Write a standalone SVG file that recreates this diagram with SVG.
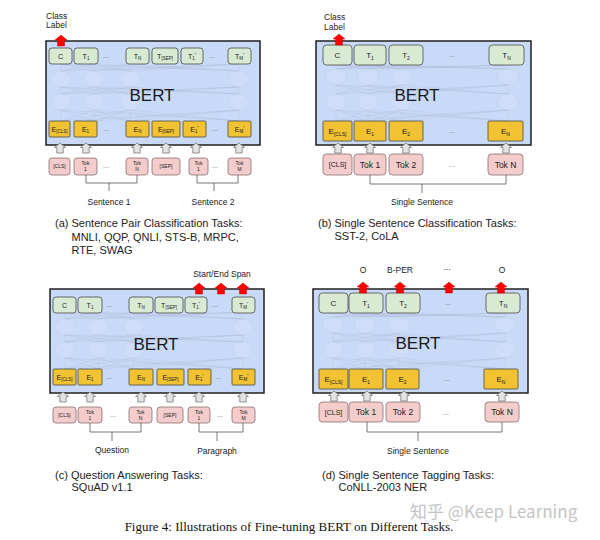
<svg xmlns="http://www.w3.org/2000/svg" xmlns:xlink="http://www.w3.org/1999/xlink" width="600" height="540" viewBox="0 0 600 540">
<style>
.bert{fill:#c9daf8;stroke:#1f1f1f;stroke-width:1.5}
.t{fill:#d9ead3;stroke:#4a4a4a;stroke-width:.8}
.e{fill:#f1c232;stroke:#4a4a4a;stroke-width:.8}
.k{fill:#f4cccc;stroke:#8a6f6f;stroke-width:.8}
.ga{fill:#e3e3e3;stroke:#7a7a7a;stroke-width:.8}
.ra{fill:#ff0000;stroke:#d00000;stroke-width:.5}
.br{fill:none;stroke:#555;stroke-width:.8}
.nl{fill:none;stroke:#a2b0c8;stroke-width:.5;opacity:.45}
.ne{fill:#d2e0f8;stroke:#b8c6de;stroke-width:.5;opacity:.6}
text{font-family:"Liberation Sans",Arial,sans-serif;fill:#222}
.m{text-anchor:middle}
.b7{font-size:7px}
.b8{font-size:8px}
.s{font-size:4.5px}
.p{font-size:6px}
.s5{font-size:5px}
.tk{font-size:5px}
.tk8{font-size:8.5px}
.cl{font-size:7px}
.lab{font-size:8.5px}
.cap{font-size:11px}
.bt{font-size:17px;text-anchor:middle;fill:#1a1a1a}
.dots{font-size:7px;fill:#666;text-anchor:middle}
.fig{font-family:"Liberation Serif","Times New Roman",serif;font-size:13px;text-anchor:middle;fill:#111}
.wm{font-family:"Noto Sans CJK SC","Noto Sans",sans-serif;font-size:17px;fill:#c4c4c4}
</style>
<defs>
<path id="gar" d="M0,0 L5.5,4.5 L3.2,4.5 L3.2,10 L-3.2,10 L-3.2,4.5 L-5.5,4.5 Z"/>
<path id="rar" d="M0,0 L6,5 L3.5,5 L3.5,11 L-3.5,11 L-3.5,5 L-6,5 Z"/>
<g id="netA">
<path class="nl" d="M15 80L15 69M15 80L48 69M15 80L84 69M15 80L193 69M48 80L15 69M48 80L48 69M48 80L84 69M48 80L193 69M84 80L15 69M84 80L48 69M84 80L84 69M84 80L193 69M193 80L15 69M193 80L48 69M193 80L84 69M193 80L193 69
M15 53L15 46M15 53L48 46M15 53L84 46M15 53L193 46M48 53L15 46M48 53L48 46M48 53L84 46M48 53L193 46M84 53L15 46M84 53L48 46M84 53L84 46M84 53L193 46M193 53L15 46M193 53L48 46M193 53L84 46M193 53L193 46
M15 30L15 23M15 30L48 23M15 30L84 23M15 30L193 23M48 30L15 23M48 30L48 23M48 30L84 23M48 30L193 23M84 30L15 23M84 30L48 23M84 30L84 23M84 30L193 23M193 30L15 23M193 30L48 23M193 30L84 23M193 30L193 23"/>
<ellipse class="ne" cx="15" cy="38" rx="10" ry="8"/><ellipse class="ne" cx="48" cy="38" rx="10" ry="8"/><ellipse class="ne" cx="84" cy="38" rx="10" ry="8"/><ellipse class="ne" cx="193" cy="38" rx="10" ry="8"/>
<ellipse class="ne" cx="15" cy="61" rx="10" ry="8"/><ellipse class="ne" cx="48" cy="61" rx="10" ry="8"/><ellipse class="ne" cx="84" cy="61" rx="10" ry="8"/><ellipse class="ne" cx="193" cy="61" rx="10" ry="8"/>
</g>
<g id="netB">
<path class="nl" d="M20 80L20 69M20 80L52 69M20 80L86 69M20 80L192 69M52 80L20 69M52 80L52 69M52 80L86 69M52 80L192 69M86 80L20 69M86 80L52 69M86 80L86 69M86 80L192 69M192 80L20 69M192 80L52 69M192 80L86 69M192 80L192 69
M20 53L20 44M20 53L52 44M20 53L86 44M20 53L192 44M52 53L20 44M52 53L52 44M52 53L86 44M52 53L192 44M86 53L20 44M86 53L52 44M86 53L86 44M86 53L192 44M192 53L20 44M192 53L52 44M192 53L86 44M192 53L192 44
M20 28L20 24M20 28L52 24M20 28L86 24M20 28L192 24M52 28L20 24M52 28L52 24M52 28L86 24M52 28L192 24M86 28L20 24M86 28L52 24M86 28L86 24M86 28L192 24M192 28L20 24M192 28L52 24M192 28L86 24M192 28L192 24"/>
<ellipse class="ne" cx="20" cy="36" rx="10.5" ry="8"/><ellipse class="ne" cx="52" cy="36" rx="10.5" ry="8"/><ellipse class="ne" cx="86" cy="36" rx="10.5" ry="8"/><ellipse class="ne" cx="192" cy="36" rx="10.5" ry="8"/>
<ellipse class="ne" cx="20" cy="61" rx="10.5" ry="8"/><ellipse class="ne" cx="52" cy="61" rx="10.5" ry="8"/><ellipse class="ne" cx="86" cy="61" rx="10.5" ry="8"/><ellipse class="ne" cx="192" cy="61" rx="10.5" ry="8"/>
</g>
</defs>

<!-- ===== Panel (a) ===== -->
<g id="a-bert"><rect class="bert" x="46" y="41" width="214" height="104"/><use xlink:href="#netA" x="46" y="41"/><text class="bt" x="152" y="101">BERT</text></g>
<g id="a-C"><rect class="t" x="49" y="48" width="23" height="16" rx="3"/><text class="m b7" x="60.5" y="58.5">C</text></g>
<g id="a-T1"><rect class="t" x="74" y="48" width="24" height="16" rx="3"/><text class="m b7" x="86" y="58.5">T<tspan class="s" dy="1.5">1</tspan></text></g>
<g id="a-TN"><rect class="t" x="126" y="48" width="23" height="16" rx="3"/><text class="m b7" x="137.5" y="58.5">T<tspan class="s" dy="1.5">N</tspan></text></g>
<g id="a-TSEP"><rect class="t" x="152" y="48" width="26" height="16" rx="3"/><text class="m b7" x="165" y="58.5">T<tspan class="s" dy="1.5">[SEP]</tspan></text></g>
<g id="a-T1p"><rect class="t" x="181" y="48" width="22" height="16" rx="3"/><text class="m b7" x="192" y="58.5">T<tspan class="s" dy="1.5">1</tspan><tspan class="p" dy="-3.5">'</tspan></text></g>
<g id="a-TMp"><rect class="t" x="228" y="48" width="23" height="16" rx="3"/><text class="m b7" x="239.5" y="58.5">T<tspan class="s" dy="1.5">M</tspan><tspan class="p" dy="-3.5">'</tspan></text></g>
<text class="dots" x="106" y="58">...</text><text class="dots" x="212" y="58">...</text>

<g id="a-ECLS"><rect class="e" x="49" y="121" width="21" height="16" rx="1"/><text class="m b7" x="59.5" y="131.5">E<tspan class="s" dy="1.5">[CLS]</tspan></text></g>
<g id="a-E1"><rect class="e" x="74" y="121" width="23" height="16" rx="1"/><text class="m b7" x="85.5" y="131.5">E<tspan class="s" dy="1.5">1</tspan></text></g>
<g id="a-EN"><rect class="e" x="126" y="121" width="23" height="16" rx="1"/><text class="m b7" x="137.5" y="131.5">E<tspan class="s" dy="1.5">N</tspan></text></g>
<g id="a-ESEP"><rect class="e" x="152" y="121" width="28" height="16" rx="1"/><text class="m b7" x="166" y="131.5">E<tspan class="s" dy="1.5">[SEP]</tspan></text></g>
<g id="a-E1p"><rect class="e" x="183" y="121" width="23" height="16" rx="1"/><text class="m b7" x="194.5" y="131.5">E<tspan class="s" dy="1.5">1</tspan><tspan class="p" dy="-3.5">'</tspan></text></g>
<g id="a-EMp"><rect class="e" x="228" y="121" width="23" height="16" rx="1"/><text class="m b7" x="239.5" y="131.5">E<tspan class="s" dy="1.5">M</tspan><tspan class="p" dy="-3.5">'</tspan></text></g>
<text class="dots" x="106" y="131">...</text><text class="dots" x="215" y="131">...</text>

<g id="a-kCLS"><rect class="k" x="49" y="158" width="21" height="17" rx="3"/><text class="m tk" x="59.5" y="168">[CLS]</text></g>
<g id="a-k1"><rect class="k" x="74" y="158" width="23" height="17" rx="3"/><text class="m tk" x="85.5" y="165">Tok</text><text class="m tk" x="85.5" y="171">1</text></g>
<g id="a-kN"><rect class="k" x="126" y="158" width="22" height="17" rx="3"/><text class="m tk" x="137" y="165">Tok</text><text class="m tk" x="137" y="171">N</text></g>
<g id="a-kSEP"><rect class="k" x="152" y="158" width="28" height="17" rx="3"/><text class="m tk" x="166" y="168">[SEP]</text></g>
<g id="a-k1p"><rect class="k" x="189" y="158" width="19" height="17" rx="3"/><text class="m tk" x="198.5" y="165">Tok</text><text class="m tk" x="198.5" y="171">1</text></g>
<g id="a-kM"><rect class="k" x="228" y="158" width="23" height="17" rx="3"/><text class="m tk" x="239.5" y="165">Tok</text><text class="m tk" x="239.5" y="171">M</text></g>
<text class="dots" x="106" y="168">...</text><text class="dots" x="215" y="168">...</text>

<g id="a-label"><text class="lab" x="46" y="19">Class</text><text class="lab" x="46" y="28">Label</text></g>
<text class="lab m" x="109" y="205">Sentence 1</text>
<text class="lab m" x="213" y="205">Sentence 2</text>
<text class="cap" x="55" y="227">(a) Sentence Pair Classification Tasks:</text>
<text class="cap" x="71.5" y="241">MNLI, QQP, QNLI, STS-B, MRPC,</text>
<text class="cap" x="71.5" y="254">RTE, SWAG</text>

<!-- ===== Panel (b) ===== -->
<g id="b-bert"><rect class="bert" x="316" y="41" width="215" height="104"/><use xlink:href="#netB" x="316" y="41"/><text class="bt" x="417" y="101">BERT</text></g>
<g id="b-C"><rect class="t" x="323" y="45" width="29" height="20" rx="3.5"/><text class="m b8" x="337.5" y="58">C</text></g>
<g id="b-T1"><rect class="t" x="354" y="45" width="32" height="20" rx="3.5"/><text class="m b8" x="370" y="58">T<tspan class="s5" dy="1.5">1</tspan></text></g>
<g id="b-T2"><rect class="t" x="389" y="45" width="34" height="20" rx="3.5"/><text class="m b8" x="406" y="58">T<tspan class="s5" dy="1.5">2</tspan></text></g>
<g id="b-TN"><rect class="t" x="489" y="45" width="35" height="20" rx="3.5"/><text class="m b8" x="506.5" y="58">T<tspan class="s5" dy="1.5">N</tspan></text></g>
<text class="dots" x="452" y="57">...</text>

<g id="b-ECLS"><rect class="e" x="323" y="121" width="29" height="20" rx="1"/><text class="m b8" x="337.5" y="134">E<tspan class="s5" dy="1.5">[CLS]</tspan></text></g>
<g id="b-E1"><rect class="e" x="354" y="121" width="32" height="20" rx="1"/><text class="m b8" x="370" y="134">E<tspan class="s5" dy="1.5">1</tspan></text></g>
<g id="b-E2"><rect class="e" x="389" y="121" width="34" height="20" rx="1"/><text class="m b8" x="406" y="134">E<tspan class="s5" dy="1.5">2</tspan></text></g>
<g id="b-EN"><rect class="e" x="488" y="121" width="35" height="20" rx="1"/><text class="m b8" x="505.5" y="134">E<tspan class="s5" dy="1.5">N</tspan></text></g>
<text class="dots" x="452" y="133">...</text>

<g id="b-kCLS"><rect class="k" x="323" y="154" width="29" height="21" rx="3.5"/><text class="m cl" x="337.5" y="167">[CLS]</text></g>
<g id="b-k1"><rect class="k" x="354" y="154" width="32" height="21" rx="3.5"/><text class="m tk8" x="370" y="167.5">Tok 1</text></g>
<g id="b-k2"><rect class="k" x="389" y="154" width="34" height="21" rx="3.5"/><text class="m tk8" x="406" y="167.5">Tok 2</text></g>
<g id="b-kN"><rect class="k" x="488" y="154" width="35" height="21" rx="3.5"/><text class="m tk8" x="505.5" y="167.5">Tok N</text></g>
<text class="dots" x="452" y="167">...</text>

<g id="b-label"><text class="lab" x="324" y="20">Class</text><text class="lab" x="324" y="30">Label</text></g>
<text class="lab m" x="422" y="205">Single Sentence</text>
<text class="cap" x="318" y="227">(b) Single Sentence Classification Tasks:</text>
<text class="cap" x="334.5" y="240">SST-2, CoLA</text>

<!-- ===== Panel (c) ===== -->
<g id="c-bert"><rect class="bert" x="50" y="289" width="214" height="104"/><use xlink:href="#netA" x="50" y="289"/><text class="bt" x="156" y="350">BERT</text></g>
<g id="c-C"><rect class="t" x="53" y="297" width="23" height="16" rx="3"/><text class="m b7" x="64.5" y="307.5">C</text></g>
<g id="c-T1"><rect class="t" x="78" y="297" width="24" height="16" rx="3"/><text class="m b7" x="90" y="307.5">T<tspan class="s" dy="1.5">1</tspan></text></g>
<g id="c-TN"><rect class="t" x="129" y="297" width="24" height="16" rx="3"/><text class="m b7" x="141" y="307.5">T<tspan class="s" dy="1.5">N</tspan></text></g>
<g id="c-TSEP"><rect class="t" x="155" y="297" width="28" height="16" rx="3"/><text class="m b7" x="169" y="307.5">T<tspan class="s" dy="1.5">[SEP]</tspan></text></g>
<g id="c-T1p"><rect class="t" x="185" y="297" width="22" height="16" rx="3"/><text class="m b7" x="196" y="307.5">T<tspan class="s" dy="1.5">1</tspan><tspan class="p" dy="-3.5">'</tspan></text></g>
<g id="c-TMp"><rect class="t" x="232" y="297" width="23" height="16" rx="3"/><text class="m b7" x="243.5" y="307.5">T<tspan class="s" dy="1.5">M</tspan><tspan class="p" dy="-3.5">'</tspan></text></g>
<text class="dots" x="109" y="307">...</text><text class="dots" x="215" y="307">...</text>

<g id="c-ECLS"><rect class="e" x="53" y="369" width="23" height="16" rx="1"/><text class="m b7" x="64.5" y="379.5">E<tspan class="s" dy="1.5">[CLS]</tspan></text></g>
<g id="c-E1"><rect class="e" x="78" y="369" width="24" height="16" rx="1"/><text class="m b7" x="90" y="379.5">E<tspan class="s" dy="1.5">1</tspan></text></g>
<g id="c-EN"><rect class="e" x="129" y="369" width="24" height="16" rx="1"/><text class="m b7" x="141" y="379.5">E<tspan class="s" dy="1.5">N</tspan></text></g>
<g id="c-ESEP"><rect class="e" x="157" y="369" width="27" height="16" rx="1"/><text class="m b7" x="170.5" y="379.5">E<tspan class="s" dy="1.5">[SEP]</tspan></text></g>
<g id="c-E1p"><rect class="e" x="188" y="369" width="23" height="16" rx="1"/><text class="m b7" x="199.5" y="379.5">E<tspan class="s" dy="1.5">1</tspan><tspan class="p" dy="-3.5">'</tspan></text></g>
<g id="c-EMp"><rect class="e" x="232" y="369" width="23" height="16" rx="1"/><text class="m b7" x="243.5" y="379.5">E<tspan class="s" dy="1.5">M</tspan><tspan class="p" dy="-3.5">'</tspan></text></g>
<text class="dots" x="109" y="379">...</text><text class="dots" x="218" y="379">...</text>

<g id="c-kCLS"><rect class="k" x="53" y="407" width="23" height="16" rx="3"/><text class="m tk" x="64.5" y="416.5">[CLS]</text></g>
<g id="c-k1"><rect class="k" x="78" y="407" width="24" height="16" rx="3"/><text class="m tk" x="90" y="413.5">Tok</text><text class="m tk" x="90" y="419.5">1</text></g>
<g id="c-kN"><rect class="k" x="129" y="407" width="23" height="16" rx="3"/><text class="m tk" x="140.5" y="413.5">Tok</text><text class="m tk" x="140.5" y="419.5">N</text></g>
<g id="c-kSEP"><rect class="k" x="157" y="407" width="26" height="16" rx="3"/><text class="m tk" x="170" y="416.5">[SEP]</text></g>
<g id="c-k1p"><rect class="k" x="188" y="407" width="22" height="16" rx="3"/><text class="m tk" x="199" y="413.5">Tok</text><text class="m tk" x="199" y="419.5">1</text></g>
<g id="c-kM"><rect class="k" x="232" y="407" width="23" height="16" rx="3"/><text class="m tk" x="243.5" y="413.5">Tok</text><text class="m tk" x="243.5" y="419.5">M</text></g>
<text class="dots" x="113" y="417">...</text><text class="dots" x="220" y="417">...</text>

<text class="lab m" x="222" y="277">Start/End Span</text>
<text class="lab m" x="112" y="453">Question</text>
<text class="lab m" x="217" y="454">Paragraph</text>
<text class="cap" x="55" y="479">(c) Question Answering Tasks:</text>
<text class="cap" x="71.5" y="491">SQuAD v1.1</text>

<!-- ===== Panel (d) ===== -->
<g id="d-bert"><rect class="bert" x="313" y="289" width="215" height="104"/><use xlink:href="#netB" x="313" y="289"/><text class="bt" x="418" y="349">BERT</text></g>
<g id="d-C"><rect class="t" x="319" y="293" width="29" height="20" rx="3.5"/><text class="m b8" x="333.5" y="306">C</text></g>
<g id="d-T1"><rect class="t" x="349" y="293" width="34" height="20" rx="3.5"/><text class="m b8" x="366" y="306">T<tspan class="s5" dy="1.5">1</tspan></text></g>
<g id="d-T2"><rect class="t" x="386" y="293" width="34" height="20" rx="3.5"/><text class="m b8" x="403" y="306">T<tspan class="s5" dy="1.5">2</tspan></text></g>
<g id="d-TN"><rect class="t" x="486" y="293" width="34" height="20" rx="3.5"/><text class="m b8" x="503" y="306">T<tspan class="s5" dy="1.5">N</tspan></text></g>
<text class="dots" x="448" y="305">...</text>

<g id="d-ECLS"><rect class="e" x="319" y="369" width="29" height="20" rx="1"/><text class="m b8" x="333.5" y="382">E<tspan class="s5" dy="1.5">[CLS]</tspan></text></g>
<g id="d-E1"><rect class="e" x="349" y="369" width="34" height="20" rx="1"/><text class="m b8" x="366" y="382">E<tspan class="s5" dy="1.5">1</tspan></text></g>
<g id="d-E2"><rect class="e" x="386" y="369" width="33" height="20" rx="1"/><text class="m b8" x="402.5" y="382">E<tspan class="s5" dy="1.5">2</tspan></text></g>
<g id="d-EN"><rect class="e" x="484" y="369" width="34" height="20" rx="1"/><text class="m b8" x="501" y="382">E<tspan class="s5" dy="1.5">N</tspan></text></g>
<text class="dots" x="447" y="381">...</text>

<g id="d-kCLS"><rect class="k" x="319" y="402" width="29" height="20" rx="3.5"/><text class="m cl" x="333.5" y="414.5">[CLS]</text></g>
<g id="d-k1"><rect class="k" x="349" y="402" width="34" height="20" rx="3.5"/><text class="m tk8" x="366" y="415">Tok 1</text></g>
<g id="d-k2"><rect class="k" x="386" y="402" width="34" height="20" rx="3.5"/><text class="m tk8" x="403" y="415">Tok 2</text></g>
<g id="d-kN"><rect class="k" x="485" y="402" width="34" height="20" rx="3.5"/><text class="m tk8" x="502" y="415">Tok N</text></g>
<text class="dots" x="446" y="415">...</text>

<g id="d-outs"><text class="lab m" x="363" y="273">O</text><text class="lab m" x="400" y="273">B-PER</text><text class="lab m" x="447" y="270">...</text><text class="lab m" x="502" y="273">O</text></g>
<text class="lab m" x="418" y="454">Single Sentence</text>
<text class="cap" x="322" y="479">(d) Single Sentence Tagging Tasks:</text>
<text class="cap" x="338.5" y="491">CoNLL-2003 NER</text>

<!-- ===== Connectors ===== -->
<g id="connectors">
<g class="ga">
<use xlink:href="#gar" x="60" y="143"/><use xlink:href="#gar" x="86" y="143"/><use xlink:href="#gar" x="137" y="143"/><use xlink:href="#gar" x="166" y="143"/><use xlink:href="#gar" x="196" y="143"/><use xlink:href="#gar" x="239" y="143"/>
<use xlink:href="#gar" x="338" y="143"/><use xlink:href="#gar" x="370" y="143"/><use xlink:href="#gar" x="406" y="143"/><use xlink:href="#gar" x="506" y="143"/>
<use xlink:href="#gar" x="63" y="392"/><use xlink:href="#gar" x="90" y="392"/><use xlink:href="#gar" x="141" y="392"/><use xlink:href="#gar" x="170" y="392"/><use xlink:href="#gar" x="199" y="392"/><use xlink:href="#gar" x="243" y="392"/>
<use xlink:href="#gar" x="334" y="391"/><use xlink:href="#gar" x="367" y="391"/><use xlink:href="#gar" x="404" y="391"/><use xlink:href="#gar" x="502" y="391"/>
</g>
<g class="ra">
<use xlink:href="#rar" x="61" y="35"/>
<use xlink:href="#rar" x="339" y="34"/>
<use xlink:href="#rar" x="199" y="283"/><use xlink:href="#rar" x="221" y="283"/><use xlink:href="#rar" x="243" y="283"/>
<use xlink:href="#rar" x="363" y="282"/><use xlink:href="#rar" x="400" y="282"/><use xlink:href="#rar" x="449" y="282"/><use xlink:href="#rar" x="501" y="282"/>
</g>
<g class="br">
<path d="M86,175V183H137V175M109,183V191"/>
<path d="M197,175V183H238V175M214,183V191"/>
<path d="M370,175V184H506V175M422,184V193"/>
<path d="M90,423V432H141V423M112,432V441"/>
<path d="M199,423V432H243V423M217,432V441"/>
<path d="M367,422V432H502V422M418,432V441"/>
</g>
</g>

<text class="fig" x="289" y="531">Figure 4: Illustrations of Fine-tuning BERT on Different Tasks.</text>
<text class="wm" x="410" y="518">知乎 @Keep Learning</text>
</svg>
